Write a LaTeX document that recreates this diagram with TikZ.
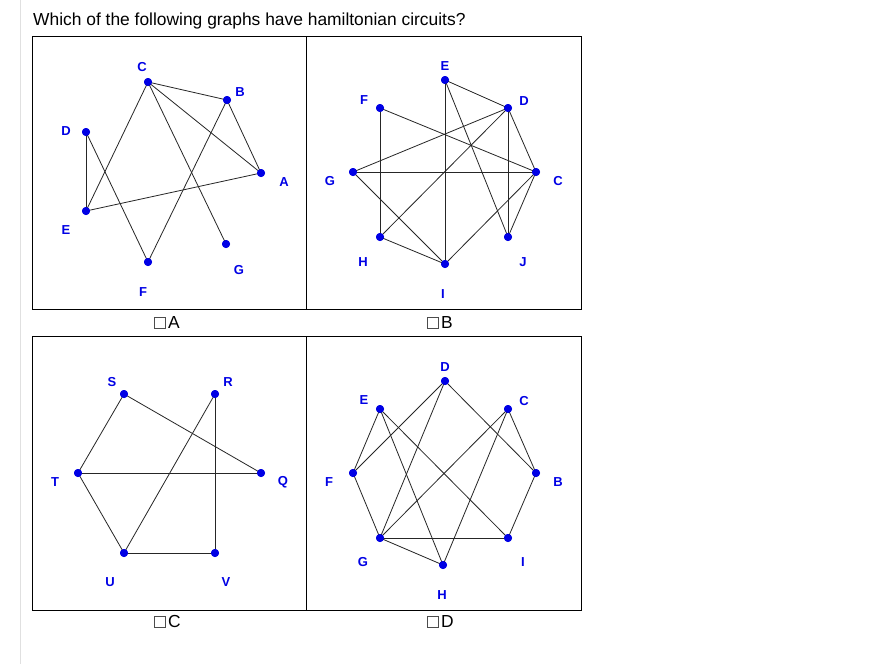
\documentclass[tikz,border=0pt]{standalone}
\usepackage{fontspec}
\setmainfont{Liberation Sans}
\begin{document}
\begin{tikzpicture}[x=1pt,y=-1pt,
  v/.style={circle,fill=blue!90!black,inner sep=0pt,minimum size=8pt},
  lb/.style={text=blue!90!black,font=\bfseries\fontsize{13}{14}\selectfont,inner sep=0pt},
  ed/.style={draw=black!85,line width=0.8pt},
  panel/.style={draw=black,line width=0.9pt}]
\useasboundingbox (0,0) rectangle (883,664);
\fill[white] (0,0) rectangle (883,664);
\draw[black!12,line width=1pt] (20,0) -- (20,664);
\node[anchor=west,inner sep=0pt,font=\fontsize{17.4}{18}\selectfont] (title) at (33,21) {Which of the following graphs have hamiltonian circuits?};
\draw[panel] (32,36) rectangle (306,309);
\draw[panel] (306,36) rectangle (581,309);
\draw[panel] (32,336) rectangle (306,610);
\draw[panel] (306,336) rectangle (581,610);
% checkboxes
\foreach \x/\y/\t/\n in {160/323/A/ca,433/323/B/cb,160/622/C/cc,433/622/D/cd}{
  \node[draw=black!70,minimum size=11pt,inner sep=0pt,line width=0.7pt] (\n) at (\x,\y) {};
  \node[anchor=west,inner sep=0pt,font=\fontsize{17.4}{18}\selectfont] at (\x+8,\y) {\t};
}
% Panel A
\node[v] (aC) at (148,82) {}; \node[v] (aB) at (227,100) {};
\node[v] (aD) at (86,132) {}; \node[v] (aA) at (261,173) {};
\node[v] (aE) at (86,211) {}; \node[v] (aF) at (148,262) {};
\node[v] (aG) at (226,244) {};
\node[lb] at (142,67) {C}; \node[lb] at (240,92) {B}; \node[lb] at (66,131) {D};
\node[lb] at (284,182) {A}; \node[lb] at (66,230) {E}; \node[lb] at (143,292) {F};
\node[lb] at (239,270) {G};
\foreach \a/\b in {aC/aB,aC/aA,aC/aG,aC/aE,aB/aA,aB/aF,aD/aE,aD/aF,aE/aA}
  \draw[ed] (\a.center) -- (\b.center);
% Panel B
\node[v] (bE) at (445,80) {}; \node[v] (bD) at (508,108) {};
\node[v] (bF) at (380,108) {}; \node[v] (bG) at (353,172) {};
\node[v] (bC) at (536,172) {}; \node[v] (bH) at (380,237) {};
\node[v] (bJ) at (508,237) {}; \node[v] (bI) at (445,264) {};
\node[lb] at (445,66) {E}; \node[lb] at (524,101) {D}; \node[lb] at (364,100) {F};
\node[lb] at (330,181) {G}; \node[lb] at (558,181) {C}; \node[lb] at (363,262) {H};
\node[lb] at (523,262) {J}; \node[lb] at (443,294) {I};
\foreach \a/\b in {bE/bD,bE/bI,bE/bJ,bD/bG,bD/bH,bD/bJ,bD/bC,bF/bH,bF/bC,bG/bC,bG/bI,bH/bI,bC/bI,bC/bJ}
  \draw[ed] (\a.center) -- (\b.center);
% Panel C
\node[v] (cS) at (124,394) {}; \node[v] (cR) at (215,394) {};
\node[v] (cT) at (78,473) {}; \node[v] (cQ) at (261,473) {};
\node[v] (cU) at (124,553) {}; \node[v] (cV) at (215,553) {};
\node[lb] at (112,382) {S}; \node[lb] at (228,382) {R}; \node[lb] at (55,482) {T};
\node[lb] at (283,482) {Q}; \node[lb] at (110,582) {U}; \node[lb] at (226,582) {V};
\foreach \a/\b in {cS/cT,cS/cQ,cT/cQ,cT/cU,cR/cU,cR/cV,cU/cV}
  \draw[ed] (\a.center) -- (\b.center);
% Panel D
\node[v] (dD) at (445,381) {}; \node[v] (dE) at (380,409) {};
\node[v] (dC) at (508,409) {}; \node[v] (dF) at (353,473) {};
\node[v] (dB) at (536,473) {}; \node[v] (dG) at (380,538) {};
\node[v] (dI) at (508,538) {}; \node[v] (dH) at (443,565) {};
\node[lb] at (445,367) {D}; \node[lb] at (364,400) {E}; \node[lb] at (524,401) {C};
\node[lb] at (329,482) {F}; \node[lb] at (558,482) {B}; \node[lb] at (363,562) {G};
\node[lb] at (523,562) {I}; \node[lb] at (442,595) {H};
\foreach \a/\b in {dD/dF,dD/dG,dD/dB,dE/dF,dE/dH,dE/dI,dC/dG,dC/dH,dC/dB,dF/dG,dG/dI,dG/dH,dB/dI}
  \draw[ed] (\a.center) -- (\b.center);
% redraw vertices on top
\foreach \n in {aA,aB,aC,aD,aE,aF,aG,bC,bD,bE,bF,bG,bH,bI,bJ,cQ,cR,cS,cT,cU,cV,dB,dC,dD,dE,dF,dG,dH,dI}
  \fill[blue!90!black] (\n) circle (4);
\end{tikzpicture}
\end{document}
